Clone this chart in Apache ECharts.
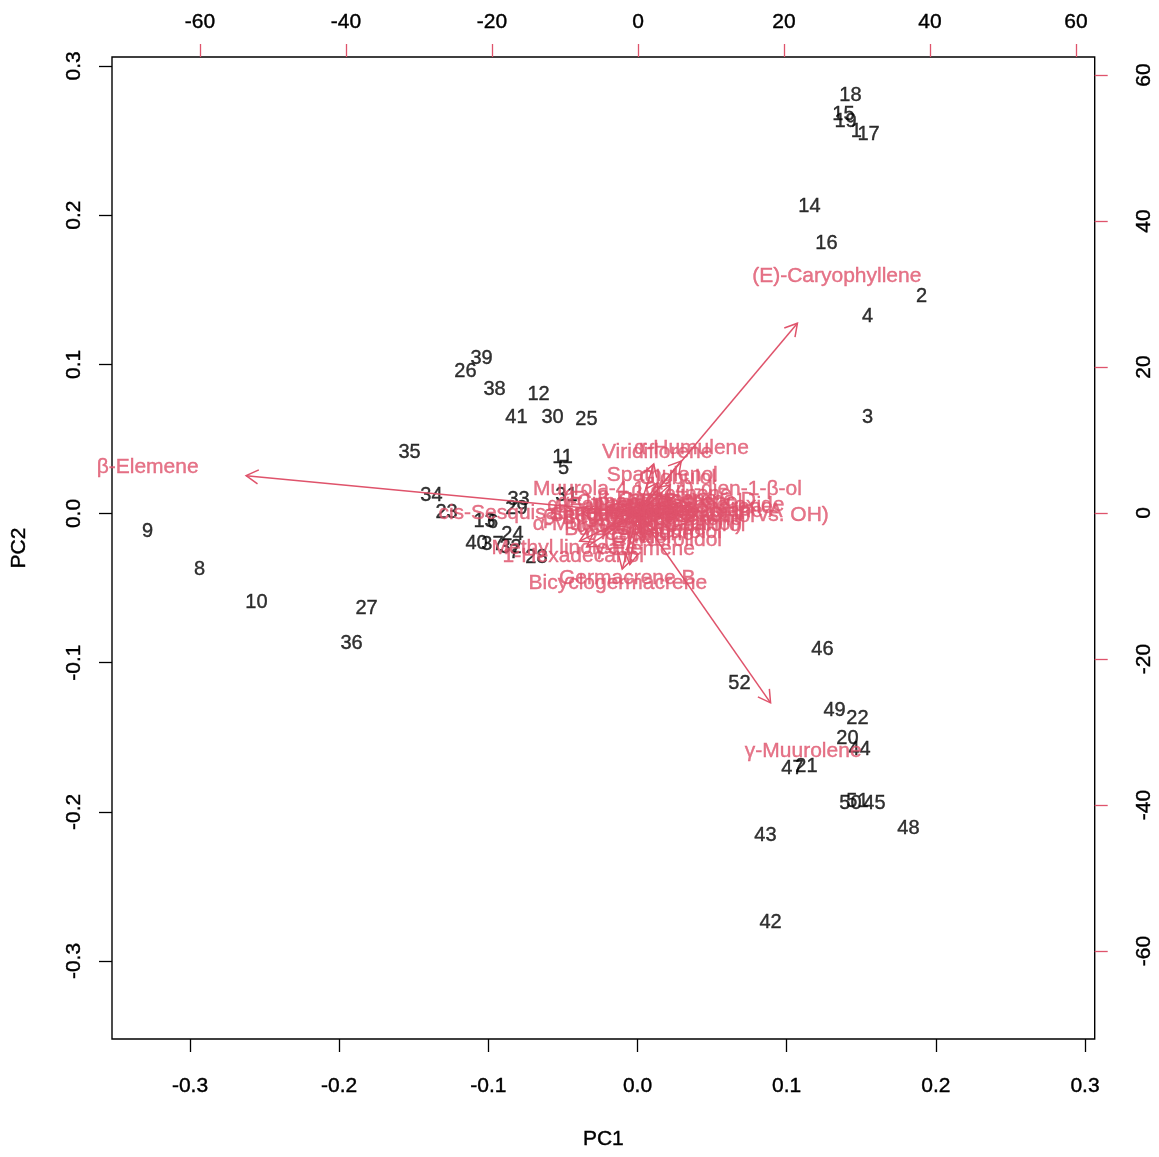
<!DOCTYPE html>
<html><head><meta charset="utf-8">
<script src="https://cdn.jsdelivr.net/npm/echarts@6/dist/echarts.min.js"></script>
<style>html,body{margin:0;padding:0;background:#fff}#c{width:1159px;height:1157px}</style>
</head><body><div id="c"></div>
<script>
const sampleIds = [1,2,3,4,5,6,7,8,9,10,11,12,13,14,15,16,17,18,19,20,21,22,23,24,25,26,27,28,29,30,31,32,33,34,35,36,37,38,39,40,41,42,43,44,45,46,47,48,49,50,51,52];
const pc1 = [0.1471,0.1907,0.1545,0.1545,-0.0493,-0.0969,-0.0821,-0.2933,-0.3281,-0.2551,-0.0499,-0.0660,-0.1022,0.1156,0.1384,0.1270,0.1552,0.1431,0.1398,0.1411,0.1136,0.1478,-0.1277,-0.0835,-0.0339,-0.1150,-0.1813,-0.0674,-0.0808,-0.0566,-0.0473,-0.0848,-0.0794,-0.1378,-0.1525,-0.1914,-0.0969,-0.0955,-0.1042,-0.1076,-0.0808,0.0895,0.0861,0.1492,0.1592,0.1243,0.1042,0.1820,0.1324,0.1431,0.1478,0.0687];
const pc2 = [0.2571,0.1465,0.0654,0.1331,0.0312,-0.0050,-0.0251,-0.0365,-0.0111,-0.0587,0.0385,0.0808,-0.0044,0.2068,0.2685,0.1820,0.2551,0.2812,0.2638,-0.1498,-0.1686,-0.1364,0.0017,-0.0131,0.0640,0.0962,-0.0627,-0.0285,0.0044,0.0654,0.0131,-0.0218,0.0104,0.0131,0.0419,-0.0861,-0.0198,0.0841,0.1049,-0.0191,0.0654,-0.2732,-0.2149,-0.1572,-0.1934,-0.0902,-0.1699,-0.2102,-0.1311,-0.1934,-0.1921,-0.1130];

const varNames = ["(E)-Caryophyllene","β-Elemene","γ-Muurolene","Viridiflorene","α-Humulene","Spathulenol","Globulol","Muurola-4,10(14)-dien-1-β-ol","(E)-β-Farnesene","Germacrene D","cis-Sesquisabinene hydrate","Sesquiterpenes (DPP vs. OH)","α-Muurolol (δ-Cadinol)","δ-Cadinene","Methyl linoleate","γ-Elemene","1-Hexadecanol","Germacrene B","Bicyclogermacrene","α-Copaene","β-Bourbonene","Elemol","Viridiflorol","Caryophyllene oxide","Humulene epoxide II","α-Cadinol","Guaiol","α-Cubebene","Aromadendrene","allo-Aromadendrene","γ-Cadinene","Cubenol","τ-Muurolol","Ledene","β-Selinene","α-Selinene","(E)-Nerolidol","Germacrene A","Bulnesol"];
const varPC1 = [27.3,-67.1,22.7,2.7,7.4,3.4,5.5,4.1,0.3,6.8,-9.6,7.1,0.0,0.3,-10.0,1.0,-8.8,-1.4,-2.7,-5.2,-3.8,3.0,8.5,7.1,1.6,9.9,0.5,-3.0,4.0,5.5,2.0,9.0,5.0,-1.0,6.0,-1.5,3.5,10.5,-4.5];
const varPC2 = [32.5,6.4,-32.5,8.4,8.9,5.2,4.8,3.4,1.9,1.8,0.0,-0.2,-1.4,-2.9,-4.8,-4.9,-5.8,-8.8,-9.6,1.1,-0.7,0.4,-1.6,1.1,0.1,-0.4,-3.2,1.5,-0.8,0.8,-2.2,1.5,-2.5,0.5,2.6,-1.8,-3.6,0.3,-2.2];

const scoreTicks = [-0.3,-0.2,-0.1,0,0.1,0.2,0.3];
const loadTicks = [-60,-40,-20,0,20,40,60];

const RED = '#DF536B';
const FONT = "'Liberation Sans', Arial, sans-serif";

function axisBase(extra){
  return Object.assign({
    type:'value', scale:false,
    axisLine:{show:false, onZero:false}, splitLine:{show:false}
  }, extra);
}
const txt = (c, s) => ({color:c, fontSize:s, fontFamily:FONT, textBorderColor:c, textBorderWidth:0.4});
const chart = echarts.init(document.getElementById('c'));
chart.setOption({
  animation:false,
  backgroundColor:'#fff',
  grid:{left:112, top:57, right:64.3, bottom:118, show:true, borderColor:'#000', borderWidth:1.4, backgroundColor:'transparent'},
  xAxis:[
    axisBase({position:'bottom', min:-0.3523, max:0.3065,
      axisTick:{show:true, customValues:scoreTicks, length:13, lineStyle:{color:'#000', width:1.3}},
      axisLabel:Object.assign({customValues:scoreTicks, formatter:v=>Number(v).toFixed(1), margin:37}, txt('#000',21)),
      name:'PC1', nameLocation:'middle', nameGap:90, nameTextStyle:txt('#000',21)}),
    axisBase({position:'top', min:-72.05, max:62.56,
      axisTick:{show:true, customValues:loadTicks, length:13, lineStyle:{color:RED, width:1.3}},
      axisLabel:Object.assign({customValues:loadTicks, formatter:v=>String(Math.round(v)), margin:24}, txt('#000',21))})
  ],
  yAxis:[
    axisBase({position:'left', min:-0.3523, max:0.3060,
      axisTick:{show:true, customValues:scoreTicks, length:13, lineStyle:{color:'#000', width:1.3}},
      axisLabel:Object.assign({customValues:scoreTicks, formatter:v=>Number(v).toFixed(1), margin:27, rotate:90}, txt('#000',21)),
      name:'PC2', nameLocation:'middle', nameGap:82, nameTextStyle:txt('#000',21)}),
    axisBase({position:'right', min:-72.05, max:62.47,
      axisTick:{show:true, customValues:loadTicks, length:13, lineStyle:{color:RED, width:1.3}},
      axisLabel:Object.assign({customValues:loadTicks, formatter:v=>String(Math.round(v)), margin:39, rotate:90}, txt('#000',21))})
  ],
  series:[
    {
      type:'scatter', xAxisIndex:0, yAxisIndex:0, silent:true, z:2,
      symbolSize:1, itemStyle:{color:'rgba(0,0,0,0)'},
      data: sampleIds.map((id,i)=>({name:String(id), value:[pc1[i], pc2[i]]})),
      label:Object.assign({show:true, position:[0,0], offset:[0,2], align:'center', verticalAlign:'middle', formatter:'{b}'}, txt('#000',20)),
      emphasis:{disabled:true}
    },
    {
      type:'custom', xAxisIndex:1, yAxisIndex:1, silent:true, z:3,
      encode:{x:0, y:1},
      data: varNames.map((n,i)=>[varPC1[i], varPC2[i]]),
      renderItem(params, api){
        const o = api.coord([0,0]);
        const e = api.coord([api.value(0)*0.8, api.value(1)*0.8]);
        const ang = Math.atan2(e[1]-o[1], e[0]-o[0]);
        const L = 14, a = Math.PI/6;
        const w1 = [e[0]-L*Math.cos(ang-a), e[1]-L*Math.sin(ang-a)];
        const w2 = [e[0]-L*Math.cos(ang+a), e[1]-L*Math.sin(ang+a)];
        return {type:'group', children:[
          {type:'line', shape:{x1:o[0],y1:o[1],x2:e[0],y2:e[1]}, style:{stroke:RED, lineWidth:1.5}},
          {type:'polyline', shape:{points:[w1,e,w2]}, style:{stroke:RED, lineWidth:1.5, fill:null}}
        ]};
      }
    },
    {
      type:'scatter', xAxisIndex:1, yAxisIndex:1, silent:true, z:4,
      symbolSize:1, itemStyle:{color:'rgba(0,0,0,0)'},
      data: varNames.map((n,i)=>({name:n, value:[varPC1[i], varPC2[i]]})),
      label:Object.assign({show:true, position:[0,0], offset:[0,1], align:'center', verticalAlign:'middle', formatter:'{b}'}, txt(RED,21)),
      emphasis:{disabled:true}
    }
  ]
});
</script>
</body></html>
